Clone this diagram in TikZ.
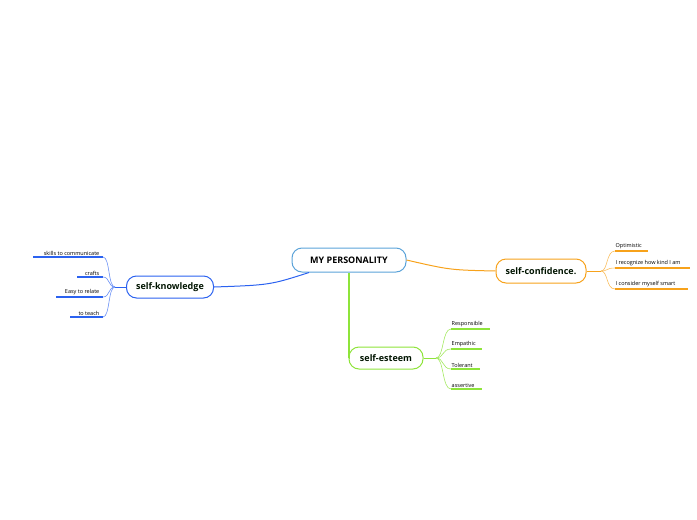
\documentclass[tikz,border=0pt]{standalone}
\usepackage{fontspec}
\setmainfont{Open Sans}
\begin{document}
\begin{tikzpicture}[x=1pt,y=-1pt,
  main/.style={draw=#1,line width=1pt,rounded corners=10pt,fill=white,font=\bfseries\fontsize{9}{11}\selectfont,text=black!80!green!40!black,inner sep=0pt},
  leaf/.style={font=\fontsize{5.5}{7}\selectfont,anchor=south west,inner sep=1.5pt},
  ul/.style={draw=#1,line width=1.3pt}]
\useasboundingbox (0,0) rectangle (697,520);
\definecolor{cblue}{HTML}{2B62F0}
\definecolor{corange}{HTML}{F7A21B}
\definecolor{cgreen}{HTML}{8EE43A}
\definecolor{ccen}{HTML}{5BA3D9}
% connectors first
\coordinate (cb) at (310,272);
\coordinate (cc) at (406,266);
\coordinate (cg) at (349,272);
\node[main=ccen,minimum width=114pt,minimum height=24pt,text=black] (c) at (349,260) {MY PERSONALITY};
\node[main=corange,minimum width=90pt,minimum height=24pt] (sc) at (541,271) {self-confidence.};
\node[main=cgreen,minimum width=74pt,minimum height=22pt] (se) at (386,358) {self-esteem};
\node[main=cblue,minimum width=87pt,minimum height=22pt] (sk) at (170,287) {self-knowledge};
\begin{scope}[on background layer/.style={}]
\draw[corange,line width=1pt] (c.east) .. controls (450,270) .. (sc.west);
\draw[cgreen,line width=1.3pt] (c.south) -- (349,358) -- (se.west);
\draw[cblue,line width=1pt] (c.south) ++(-40,0) .. controls (270,285) .. (sk.east);
\end{scope}
% right leaves
\coordinate (rb) at (601,271);
\draw[corange,line width=.6pt] (sc.east) -- (rb);
\foreach \y/\x/\t/\n in {251/648/Optimistic/r1,268/690/I recognize how kind I am/r2,289/688/I consider myself smart/r3}{
  \node[leaf] (\n) at (614,\y) {\t};
  \draw[ul=corange] (615,\y) -- (\x,\y);
  \draw[corange!70,line width=.6pt] (rb) .. controls (608,271) and (606,\y) .. (615,\y);
}
% green leaves
\coordinate (gb) at (436,358);
\draw[cgreen,line width=.8pt] (se.east) -- (gb);
\foreach \y/\x/\t/\n in {329/490/Responsible/g1,349/482/Empathic/g2,369/480/Tolerant/g3,389/482/assertive/g4}{
  \node[leaf] (\n) at (450,\y) {\t};
  \draw[ul=cgreen] (451,\y) -- (\x,\y);
  \draw[cgreen!80,line width=.6pt] (gb) .. controls (444,358) and (442,\y) .. (451,\y);
}
% blue leaves
\coordinate (bb) at (115,287);
\draw[cblue,line width=.8pt] (sk.west) -- (bb);
\foreach \y/\x/\t/\n in {257/33/skills to communicate/b1,277/77/crafts/b2,297/56/Easy to relate/b3,317/70/to teach/b4}{
  \node[leaf,anchor=south east] (\n) at (101,\y) {\t};
  \draw[ul=cblue] (\x,\y) -- (103,\y);
  \draw[cblue!70,line width=.6pt] (bb) .. controls (108,287) and (110,\y) .. (103,\y);
}
\end{tikzpicture}
\end{document}
